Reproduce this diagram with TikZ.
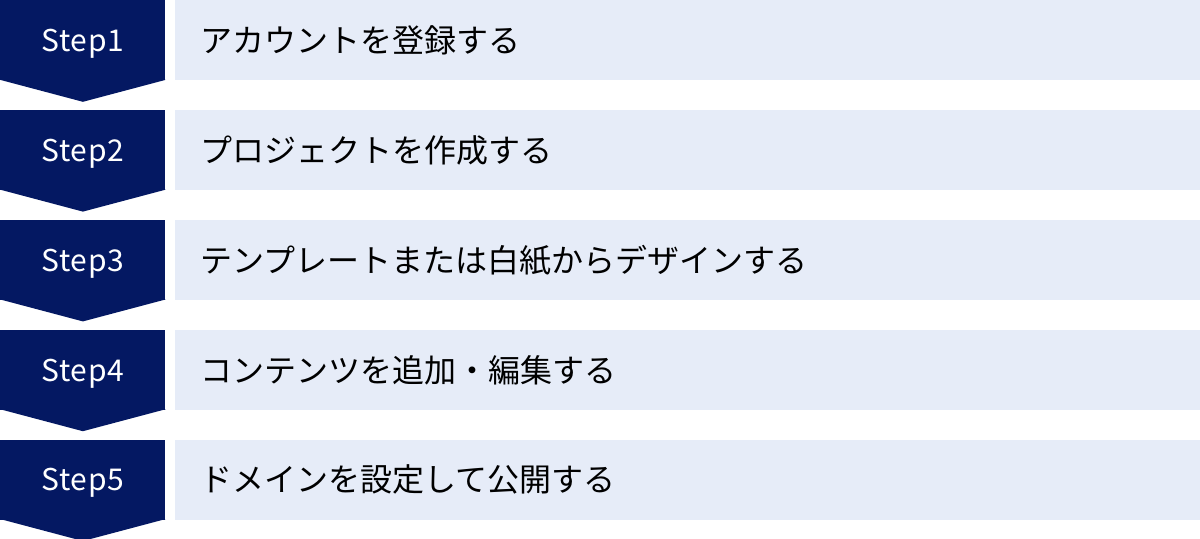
\documentclass[tikz,border=0pt]{standalone}
\usepackage{fontspec}
\setmainfont{Noto Sans CJK JP}
\newfontfamily\stepfont[LetterSpace=3]{Noto Sans CJK JP}
\usetikzlibrary{positioning}
\usetikzlibrary{calc}
\definecolor{navy}{RGB}{4,24,98}
\definecolor{paleblue}{RGB}{230,236,248}

\begin{document}
\begin{tikzpicture}[
node distance=14.5pt,
stepnode/.style={rectangle, fill=navy, text=white, minimum width=82.5pt, minimum height=40pt, inner sep=0pt, text depth=0pt, font=\stepfont\fontsize{15}{18}\selectfont},
barnode/.style={rectangle, fill=paleblue, text=black, minimum height=40pt, text width=488pt, inner xsep=12.5pt, inner ysep=0pt, align=left, font=\fontsize{16}{20}\selectfont},
tip/.style={fill=navy},
]
\useasboundingbox (0,0) rectangle (600pt,-269pt);
%Nodes
\node[stepnode, anchor=north west] (s1) at (0,0)  {Step1};
\node[stepnode]      (s2)       [below=of s1]         {Step2};
\node[stepnode]      (s3)       [below=of s2]         {Step3};
\node[stepnode]      (s4)       [below=of s3]         {Step4};
\node[stepnode]      (s5)       [below=of s4]         {Step5};

\node[barnode]       (b1)       [right=4.5pt of s1]   {アカウントを登録する};
\node[barnode]       (b2)       [right=4.5pt of s2]   {プロジェクトを作成する};
\node[barnode]       (b3)       [right=4.5pt of s3]   {テンプレートまたは白紙からデザインする};
\node[barnode]       (b4)       [right=4.5pt of s4]   {コンテンツを追加・編集する};
\node[barnode]       (b5)       [right=4.5pt of s5]   {ドメインを設定して公開する};

%Tips
\fill[tip] ($(s1.south west)+(0,0.5pt)$) -- ($(s1.south east)+(0,0.5pt)$) -- ($(s1.south)+(0,-10.5pt)$) -- cycle;
\fill[tip] ($(s2.south west)+(0,0.5pt)$) -- ($(s2.south east)+(0,0.5pt)$) -- ($(s2.south)+(0,-10.5pt)$) -- cycle;
\fill[tip] ($(s3.south west)+(0,0.5pt)$) -- ($(s3.south east)+(0,0.5pt)$) -- ($(s3.south)+(0,-10.5pt)$) -- cycle;
\fill[tip] ($(s4.south west)+(0,0.5pt)$) -- ($(s4.south east)+(0,0.5pt)$) -- ($(s4.south)+(0,-10.5pt)$) -- cycle;
\fill[tip] ($(s5.south west)+(0,0.5pt)$) -- ($(s5.south east)+(0,0.5pt)$) -- ($(s5.south)+(0,-10.5pt)$) -- cycle;
\end{tikzpicture}
\end{document}
